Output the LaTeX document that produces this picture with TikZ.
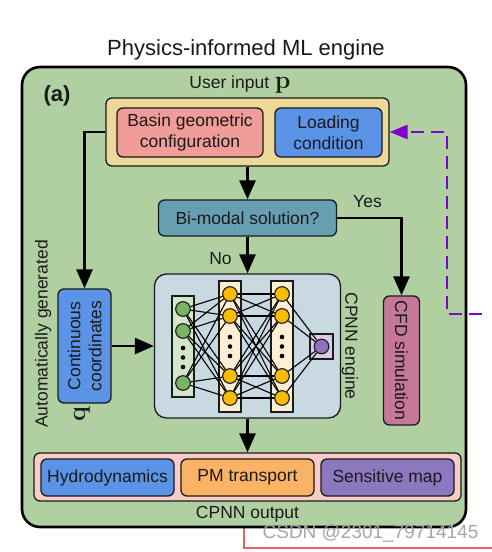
\documentclass[tikz,border=0pt]{standalone}
\usepackage{fontspec}
\setsansfont{Liberation Sans}
\usetikzlibrary{arrows.meta}
\definecolor{cgreen}{RGB}{177,208,162}
\definecolor{cyellow}{RGB}{236,216,152}
\definecolor{csalmon}{RGB}{240,156,152}
\definecolor{cblue}{RGB}{91,147,230}
\definecolor{cteal}{RGB}{104,158,178}
\definecolor{ccpnn}{RGB}{200,217,226}
\definecolor{cpinkbox}{RGB}{250,204,198}
\definecolor{corange}{RGB}{250,178,100}
\definecolor{cpurple}{RGB}{140,120,190}
\definecolor{ccfd}{RGB}{198,120,152}
\definecolor{clgreen}{RGB}{212,230,202}
\definecolor{ccream}{RGB}{253,240,210}
\definecolor{clav}{RGB}{216,204,234}
\definecolor{cnodeY}{RGB}{250,188,0}
\definecolor{cnodeG}{RGB}{124,178,102}
\definecolor{cnodeP}{RGB}{146,112,194}
\definecolor{cdash}{RGB}{128,0,204}
\definecolor{cred}{RGB}{228,100,100}
\definecolor{ctext}{RGB}{26,26,26}
\begin{document}
\begin{tikzpicture}[x=1pt,y=-1pt,
  font=\sffamily\fontsize{17.5}{21}\selectfont,
  box/.style={draw=ctext, line width=1.3pt, rounded corners=6pt, inner sep=0pt, align=center, text=ctext},
  lbl/.style={inner sep=0pt, text=ctext, align=center},
  arr/.style={line width=2.8pt, draw=black, -{Triangle[length=19pt,width=16pt]}},
  layerbox/.style={draw=ctext, line width=1.2pt, inner sep=0pt, minimum width=22pt},
  neuron/.style={circle, draw=ctext, line width=1.1pt, minimum size=14.6pt, inner sep=0pt},
  dotn/.style={circle, fill=black, minimum size=4.6pt, inner sep=0pt},
  conn/.style={line width=1.1pt, draw=black}
]
\useasboundingbox (0,0) rectangle (492,552);
\fill[white] (0,0) rectangle (492,552);

% red line from neighbouring panel
\coordinate (r1) at (244,527);
\coordinate (r2) at (244,548);
\coordinate (r3) at (492,548);
\draw[cred, line width=2.4pt] (r1) -- (r2) -- (r3);

% title
\node[lbl, anchor=base, font=\sffamily\fontsize{22}{26}\selectfont] (title) at (246,55) {Physics-informed ML engine};

% outer box
\node[draw=black, line width=2.6pt, fill=cgreen, rounded corners=18pt, minimum width=444pt, minimum height=460pt, inner sep=0pt] (outer) at (244,297) {};

\node[lbl, font=\sffamily\bfseries\fontsize{22}{26}\selectfont] (alabel) at (57,96) {(a)};
\node[lbl, anchor=base] (uilabel) at (240,88) {User input\,\,{\rmfamily\bfseries\fontsize{25}{28}\selectfont p}};

% user input box
\node[box, fill=cyellow, minimum width=283pt, minimum height=68pt] (user) at (247.5,132) {};
\node[box, fill=csalmon, minimum width=146pt, minimum height=49pt] (basin) at (190,132.5) {Basin geometric\\configuration};
\node[box, fill=cblue, minimum width=107pt, minimum height=49pt] (loading) at (328.5,132.5) {Loading\\condition};

% bimodal
\node[box, fill=cteal, minimum width=178pt, minimum height=36pt] (bimodal) at (247.5,218) {Bi-modal solution?};
\node[lbl] (yes) at (367.5,202) {Yes};
\node[lbl] (no) at (220.5,259) {No};

% CFD
\node[box, fill=ccfd, minimum width=36pt, minimum height=129pt] (cfd) at (401.5,360.5) {};
\node[lbl, rotate=-90] (cfdt) at (cfd.center) {CFD simulation};

% continuous coordinates
\node[box, fill=cblue, minimum width=53pt, minimum height=114pt] (cont) at (84.5,346) {};
\node[lbl, rotate=90] (contt) at (cont.center) {Continuous\\coordinates};
\node[lbl, rotate=90, font=\rmfamily\bfseries\fontsize{25}{28}\selectfont] (qlabel) at (82,414) {q};
\node[lbl, rotate=90] (autot) at (43,334) {Automatically generated};

% CPNN engine
\node[box, fill=ccpnn, rounded corners=12pt, minimum width=186pt, minimum height=144pt] (cpnn) at (247.5,346) {};
\node[lbl, rotate=-90] (cpnnt) at (350,346) {CPNN engine};

% neural network layers
\node[layerbox, fill=clgreen, minimum height=101pt] (L0) at (183,346.5) {};
\node[layerbox, fill=ccream, minimum height=131pt] (L1) at (230,346.5) {};
\node[layerbox, fill=ccream, minimum height=131pt] (L2) at (282,346.5) {};
\node[layerbox, fill=clav, minimum width=23pt, minimum height=25pt] (L3) at (321.5,346.5) {};

\node[neuron, fill=cnodeG] (a1) at (183,309) {};
\node[neuron, fill=cnodeG] (a2) at (183,331) {};
\node[neuron, fill=cnodeG] (a3) at (183,383) {};
\node[dotn] (ad1) at (183,348) {};
\node[dotn] (ad2) at (183,357.5) {};
\node[dotn] (ad3) at (183,367) {};

\foreach \n/\y in {1/294,2/316,3/376,4/398}{
  \node[neuron, fill=cnodeY] (b\n) at (230,\y) {};
  \node[neuron, fill=cnodeY] (c\n) at (282,\y) {};
}
\foreach \y [count=\i] in {337,346.5,356}{
  \node[dotn] (bd\i) at (230,\y) {};
  \node[dotn] (cd\i) at (282,\y) {};
}
\node[neuron, fill=cnodeP] (o1) at (321.5,346.5) {};

\foreach \i in {1,2,3}{\foreach \j in {1,2,3,4}{\draw[conn] (a\i) -- (b\j);}}
\foreach \i in {1,2,3,4}{\foreach \j in {1,2,3,4}{\draw[conn] (b\i) -- (c\j);}}
\foreach \i in {1,2,3,4}{\draw[conn] (c\i) -- (o1);}

% output box
\node[box, fill=cpinkbox, minimum width=427pt, minimum height=48pt] (outbox) at (247.5,477) {};
\node[box, fill=cblue, minimum width=133pt, minimum height=37pt] (hydro) at (107.5,477.5) {Hydrodynamics};
\node[box, fill=corange, minimum width=133pt, minimum height=37pt] (pm) at (247.5,477.5) {PM transport};
\node[box, fill=cpurple, minimum width=133pt, minimum height=37pt] (sens) at (387.5,477.5) {Sensitive map};
\node[lbl, anchor=base] (outt) at (247.5,518) {CPNN output};

% arrows
\draw[arr] (user.south) -- (bimodal.north);
\draw[arr] (bimodal.south) -- (cpnn.north);
\draw[arr] (cpnn.south) -- (outbox.north);
\draw[arr] (bimodal.east) -| (cfd.north);
\draw[arr] (user.west) -| (cont.north);
\draw[arr] (cont.east) -- (cpnn.west);

% purple dashed feedback
\coordinate (d1) at (482,314);
\coordinate (d2) at (447,314);
\coordinate (d3) at (447,132);
\draw[cdash, line width=2.6pt, dash pattern=on 13pt off 7pt, -{Triangle[length=18pt,width=14pt]}] (d1) -- (d2) -- (d3) -- (user.east);

% watermark
\node[lbl, text=gray!70, font=\sffamily\fontsize{19}{22}\selectfont] (wm) at (370.5,533) {CSDN @2301\_79714145};
\end{tikzpicture}
\end{document}
